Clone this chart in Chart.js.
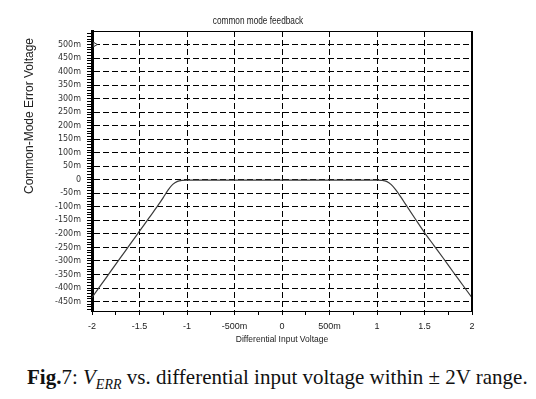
<!DOCTYPE html>
<html>
<head>
<meta charset="utf-8">
<title>common mode feedback</title>
<script src="https://cdn.jsdelivr.net/npm/chart.js@4.4.1/dist/chart.umd.min.js"></script>
<style>
  html, body { margin: 0; padding: 0; background: #fff; }
  #wrap { position: relative; width: 536px; height: 399px; overflow: hidden; }
  #chart { position: absolute; left: 0; top: 0; }
  #caption {
    position: absolute; left: 27px; top: 365px; white-space: nowrap;
    font-family: "Liberation Serif", "Times New Roman", serif; font-size: 21px; color: #111;
  }
  #caption sub { font-size: 14px; }
</style>
</head>
<body>
<div id="wrap">
  <canvas id="chart" width="536" height="355"></canvas>
  <div id="caption"><b>Fig.</b>7: <i>V<sub>ERR</sub></i> vs. differential input voltage within &plusmn; 2V range.</div>
</div>
<script>
// data
const voltIn = [-2, -1.9, -1.8, -1.7, -1.6, -1.5, -1.4, -1.3, -1.25, -1.2, -1.15, -1.1, -1.05, -1,
  -0.5, 0, 0.5, 1, 1.05, 1.1, 1.15, 1.2, 1.25, 1.3, 1.4, 1.5, 1.6, 1.7, 1.8, 1.9, 2];
const errVolt = [-0.435, -0.386, -0.337, -0.288, -0.239, -0.19, -0.141, -0.092, -0.066, -0.038, -0.017, -0.006, -0.002, -0.001,
  -0.001, -0.001, -0.001, -0.001, -0.002, -0.006, -0.018, -0.038, -0.063, -0.09, -0.143, -0.195, -0.243, -0.291, -0.34, -0.388, -0.436];

// cursor marker near the top-left corner
const markerX = [-1.97];
const markerY = [0.5];

// axis ticks
const xTicks = [-2, -1.5, -1, -0.5, 0, 0.5, 1, 1.5, 2];
const xTickLabels = ["-2", "-1.5", "-1", "-500m", "0", "500m", "1", "1.5", "2"];
const yTicks = [-0.45, -0.4, -0.35, -0.3, -0.25, -0.2, -0.15, -0.1, -0.05, 0,
  0.05, 0.1, 0.15, 0.2, 0.25, 0.3, 0.35, 0.4, 0.45, 0.5];
const yTickLabels = ["-450m", "-400m", "-350m", "-300m", "-250m", "-200m", "-150m", "-100m", "-50m", "0",
  "50m", "100m", "150m", "200m", "250m", "300m", "350m", "400m", "450m", "500m"];
const xMinorStep = 0.25;
const yMinorStep = 0.01;

const near = (a, b) => Math.abs(a - b) < 1e-6;

function tickList(majors, step, min, max) {
  const list = majors.slice();
  for (let v = Math.ceil(min / step) * step; v <= max + 1e-9; v += step) {
    const r = Math.round(v * 1000) / 1000;
    if (!list.some((m) => near(m, r))) list.push(r);
  }
  return list.sort((a, b) => a - b);
}

function labelFor(majors, labels, value) {
  const i = majors.findIndex((m) => near(m, value));
  return i < 0 ? "" : labels[i];
}

// frame, title and y label
const decorations = {
  id: "decorations",
  afterDraw(chart) {
    const { ctx, chartArea: a } = chart;
    ctx.save();
    ctx.strokeStyle = "#000";
    ctx.lineWidth = 1;
    ctx.beginPath();
    ctx.moveTo(a.left, a.top + 0.5);
    ctx.lineTo(a.right, a.top + 0.5);
    ctx.stroke();
    ctx.lineWidth = 2;
    ctx.beginPath();
    ctx.moveTo(a.right, a.top);
    ctx.lineTo(a.right, a.bottom);
    ctx.stroke();

    ctx.fillStyle = "#222";
    ctx.textAlign = "center";
    ctx.textBaseline = "middle";
    // condensed title
    ctx.save();
    ctx.translate(258, 21);
    ctx.scale(0.75, 1);
    ctx.font = '11px "Liberation Sans", Arial, sans-serif';
    ctx.fillText("common mode feedback", 0, 0);
    ctx.restore();

    ctx.translate(30, 116);
    ctx.rotate(-Math.PI / 2);
    ctx.font = '12px "Liberation Sans", Arial, sans-serif';
    ctx.fillText("Common-Mode Error Voltage", 0, 0);
    ctx.restore();
  },
};

const xMin = -2, xMax = 2, yMin = -0.485, yMax = 0.55;

new Chart(document.getElementById("chart").getContext("2d"), {
  type: "line",
  data: {
    datasets: [
      {
        data: voltIn.map((x, i) => ({ x: x, y: errVolt[i] })),
        borderColor: "#3a3a3a",
        borderWidth: 1.2,
        pointRadius: 0,
        cubicInterpolationMode: "monotone",
      },
      {
        data: markerX.map((x, i) => ({ x: x, y: markerY[i] })),
        showLine: false,
        pointStyle: "triangle",
        rotation: 90,
        pointRadius: 2.5,
        borderWidth: 1,
        borderColor: "#333",
        backgroundColor: "#fff",
      },
    ],
  },
  options: {
    responsive: false,
    animation: false,
    layout: { padding: { top: 31, right: 64, left: 0, bottom: 0 } },
    plugins: { legend: { display: false }, tooltip: { enabled: false } },
    scales: {
      x: {
        type: "linear",
        min: xMin,
        max: xMax,
        afterBuildTicks: (scale) => {
          scale.ticks = tickList(xTicks, xMinorStep, xMin, xMax).map((v) => ({ value: v }));
        },
        afterFit: (scale) => { scale.height = 44; },
        ticks: {
          autoSkip: false,
          maxRotation: 0,
          padding: 6,
          color: "#222",
          font: { family: '"Liberation Sans", Arial, sans-serif', size: 9 },
          callback: (value) => labelFor(xTicks, xTickLabels, value),
        },
        grid: {
          color: (ctx) => {
            const v = ctx.tick ? ctx.tick.value : NaN;
            const major = xTicks.some((m) => near(m, v));
            return major && !near(v, xMin) && !near(v, xMax) ? "#000" : "rgba(0,0,0,0)";
          },
          lineWidth: 1,
          tickLength: 4,
          tickColor: "#000",
          tickWidth: 1,
        },
        border: { display: true, color: "#000", width: 1, dash: [6, 3] },
        title: {
          display: true,
          text: "Differential Input Voltage",
          color: "#222",
          font: { family: '"Liberation Sans", Arial, sans-serif', size: 8.5 },
          padding: { top: 2, bottom: 10 },
        },
      },
      y: {
        min: yMin,
        max: yMax,
        afterBuildTicks: (scale) => {
          scale.ticks = tickList(yTicks, yMinorStep, -0.48, 0.54).map((v) => ({ value: v }));
        },
        afterFit: (scale) => { scale.width = 92; },
        ticks: {
          autoSkip: false,
          padding: 6,
          color: "#333",
          font: { family: '"DejaVu Sans", sans-serif', size: 8 },
          callback: (value) => labelFor(yTicks, yTickLabels, value),
        },
        grid: {
          color: (ctx) => {
            const v = ctx.tick ? ctx.tick.value : NaN;
            return yTicks.some((m) => near(m, v)) ? "#000" : "rgba(0,0,0,0)";
          },
          lineWidth: 1,
          tickLength: 5,
          tickColor: "#000",
          tickWidth: 1,
        },
        border: { display: true, color: "#000", width: 3, dash: [6, 3] },
      },
    },
  },
  plugins: [decorations],
});
</script>
</body>
</html>
